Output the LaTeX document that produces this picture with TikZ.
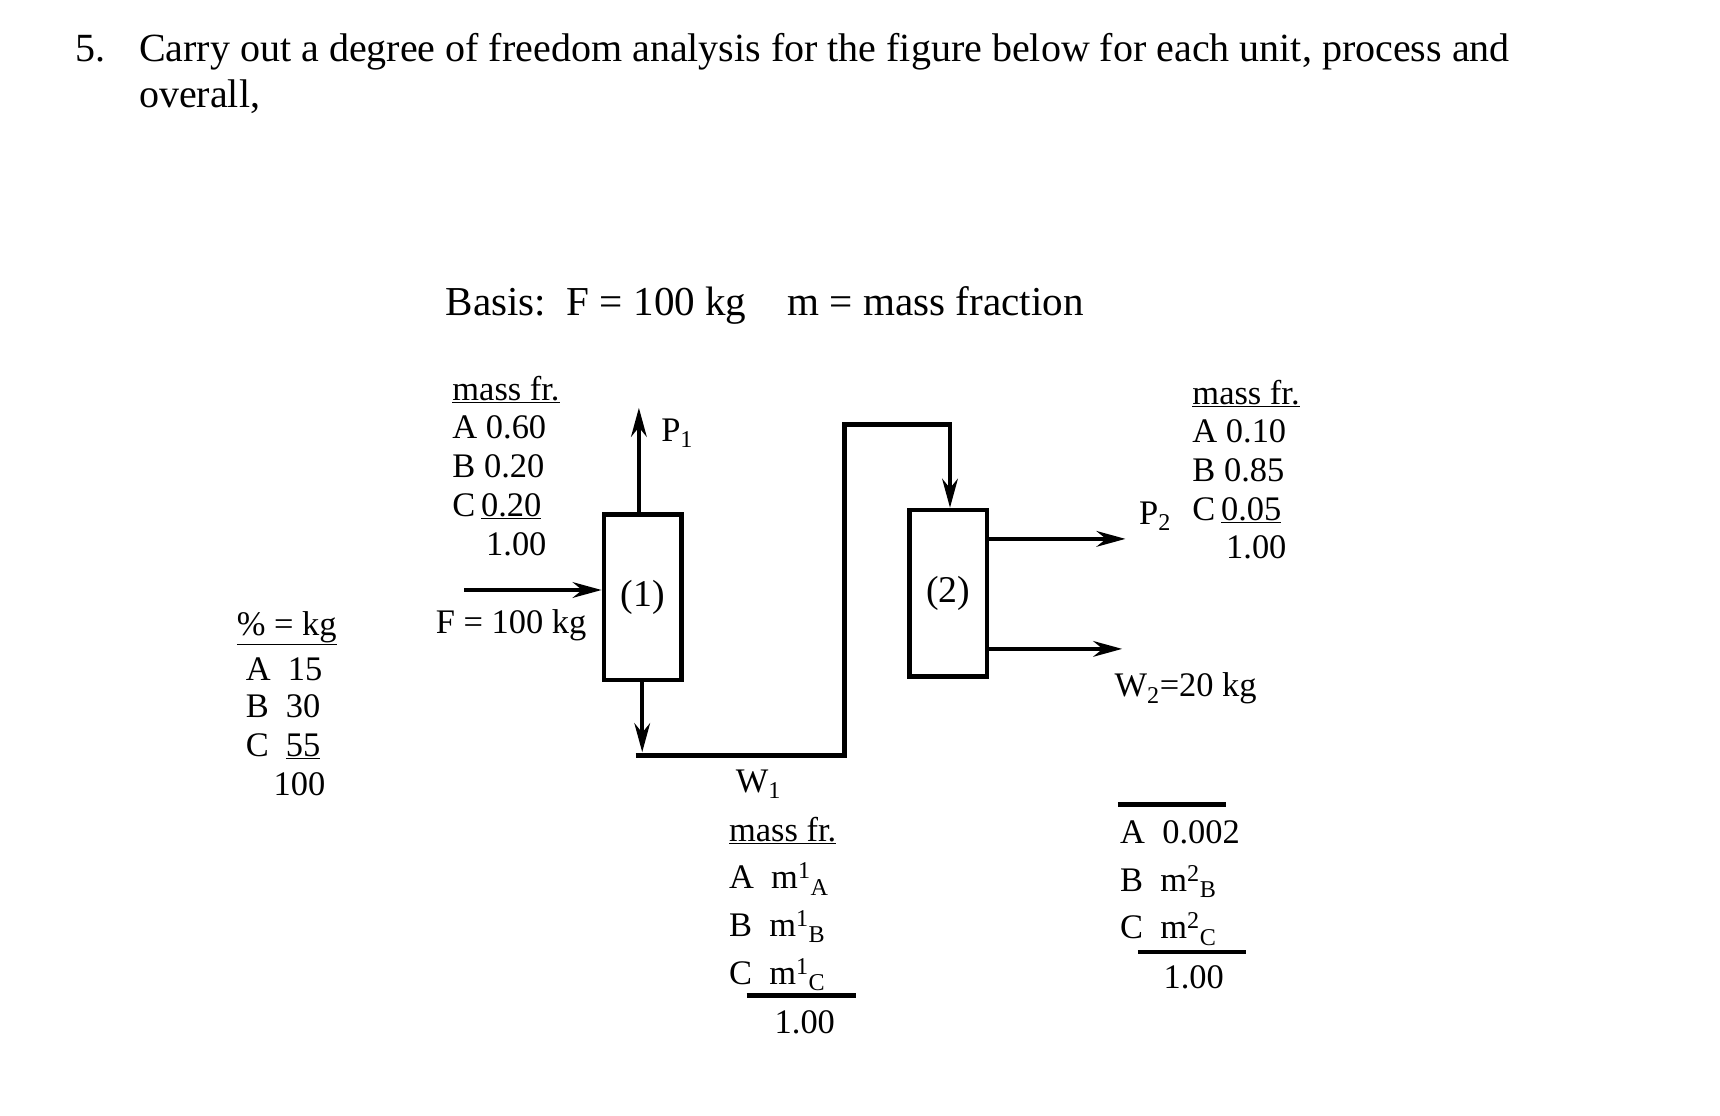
\documentclass[tikz,border=0pt]{standalone}
\usepackage{fontspec}
\setmainfont{Liberation Serif}
\usetikzlibrary{arrows.meta}
\begin{document}
\begin{tikzpicture}[x=1pt,y=-1pt,
  t/.style={anchor=base west,inner sep=0pt,font=\fontsize{31}{32}\selectfont},
  tr/.style={anchor=base east,inner sep=0pt,font=\fontsize{31}{32}\selectfont},
  ln/.style={line width=4pt},
  ar/.style={line width=4pt,-{Stealth[length=26pt,width=14pt]}},
  unit/.style={draw,line width=4pt,minimum width=70pt,inner sep=0pt,font=\fontsize{34}{34}\selectfont}]
\useasboundingbox (0,0) rectangle (1548,1004);
\node[t,font=\fontsize{36}{37}\selectfont] (n5) at (68,55) {5.};
\node[t,font=\fontsize{36}{37}\selectfont] (q1) at (125,55) {Carry out a degree of freedom analysis for the figure below for each unit, process and};
\node[t,font=\fontsize{36}{37}\selectfont] (q2) at (125,97) {overall,};
\node[t,font=\fontsize{37}{38}\selectfont] (basis) at (401,284) {Basis:\ \ F = 100 kg\ \ \ \ m = mass fraction};
% units
\node[unit,minimum height=149pt] (u1) at (578.5,537.5) {(1)};
\node[unit,minimum height=150pt] (u2) at (853.5,534) {(2)};
% left feed composition
\node[t] (mf1) at (407,360) {\underline{mass fr.}};
\node[t] (a1) at (407,395) {A 0.60};
\node[t] (b1) at (407,430) {B 0.20};
\node[t] (c1) at (407,465) {C\,\underline{0.20}};
\node[tr] (s1) at (492,500) {1.00};
\node[t] (f) at (392,570) {F = 100 kg};
\coordinate (fin) at (418,531);
\draw[ar] (fin) -- (fin -| u1.west);
% P1
\coordinate (p1) at (575,367);
\draw[ar] (u1.north -| p1) -- (p1);
\node[t] (p1l) at (595,397) {P\textsubscript{1}};
% W1 line
\coordinate (w1a) at (578,677);
\draw[ar] (u1.south -| w1a) -- (w1a);
\coordinate (w1s) at (572,680);
\coordinate (w1c) at (760,680);
\coordinate (w1d) at (760,382);
\coordinate (w1e) at (855,382);
\draw[ln,line join=miter] (w1s) -- (w1c) -- (w1d) -- (w1e) -- (855,430);
\draw[ar] (855,420) -- (855,457);
% outputs of 2
\coordinate (p2e) at (1013,485);
\coordinate (w2e) at (1010,584);
\draw[ar] (u2.east |- p2e) -- (p2e);
\draw[ar] (u2.east |- w2e) -- (w2e);
% right composition
\node[t] (mf2) at (1073,364) {\underline{mass fr.}};
\node[t] (a2) at (1073,398) {A 0.10};
\node[t] (b2) at (1073,433) {B 0.85};
\node[t] (c2) at (1073,468) {C\,\underline{0.05}};
\node[t] (p2l) at (1025,472) {P\textsubscript{2}};
\node[tr] (s2) at (1158,503) {1.00};
\node[t] (w2l) at (1003,627) {W\textsubscript{2}=20 kg};
% far left
\node[t] (pk) at (213,572) {\underline{\% = kg}};
\node[t] (a3) at (221,612) {A\ \ 15};
\node[t] (b3) at (221,646) {B\ \ 30};
\node[t] (c3) at (221,681) {C\ \ \underline{55}};
\node[t] (s3) at (246,716) {100};
% W1 composition
\node[t] (w1l) at (662,713) {W\textsubscript{1}};
\node[t] (mf4) at (656,757) {\underline{mass fr.}};
\node[t] (a4) at (656,800) {A\ \ m\textsuperscript{1}\textsubscript{A}};
\node[t] (b4) at (656,843) {B\ \ m\textsuperscript{1}\textsubscript{B}};
\node[t] (c4) at (656,886) {C\ \ m\textsuperscript{1}\textsubscript{C}};
\coordinate (l4a) at (672,896); \coordinate (l4b) at (770,896);
\draw[ln] (l4a) -- (l4b);
\node[t] (s4) at (697,930) {1.00};
% W2 composition
\coordinate (l5a) at (1006,724); \coordinate (l5b) at (1103,724);
\draw[ln] (l5a) -- (l5b);
\node[t] (a5) at (1008,759) {A\ \ 0.002};
\node[t] (b5) at (1008,802) {B\ \ m\textsuperscript{2}\textsubscript{B}};
\node[t] (c5) at (1008,845) {C\ \ m\textsuperscript{2}\textsubscript{C}};
\coordinate (l6a) at (1024,857); \coordinate (l6b) at (1121,857);
\draw[ln] (l6a) -- (l6b);
\node[t] (s5) at (1047,890) {1.00};
\end{tikzpicture}
\end{document}
